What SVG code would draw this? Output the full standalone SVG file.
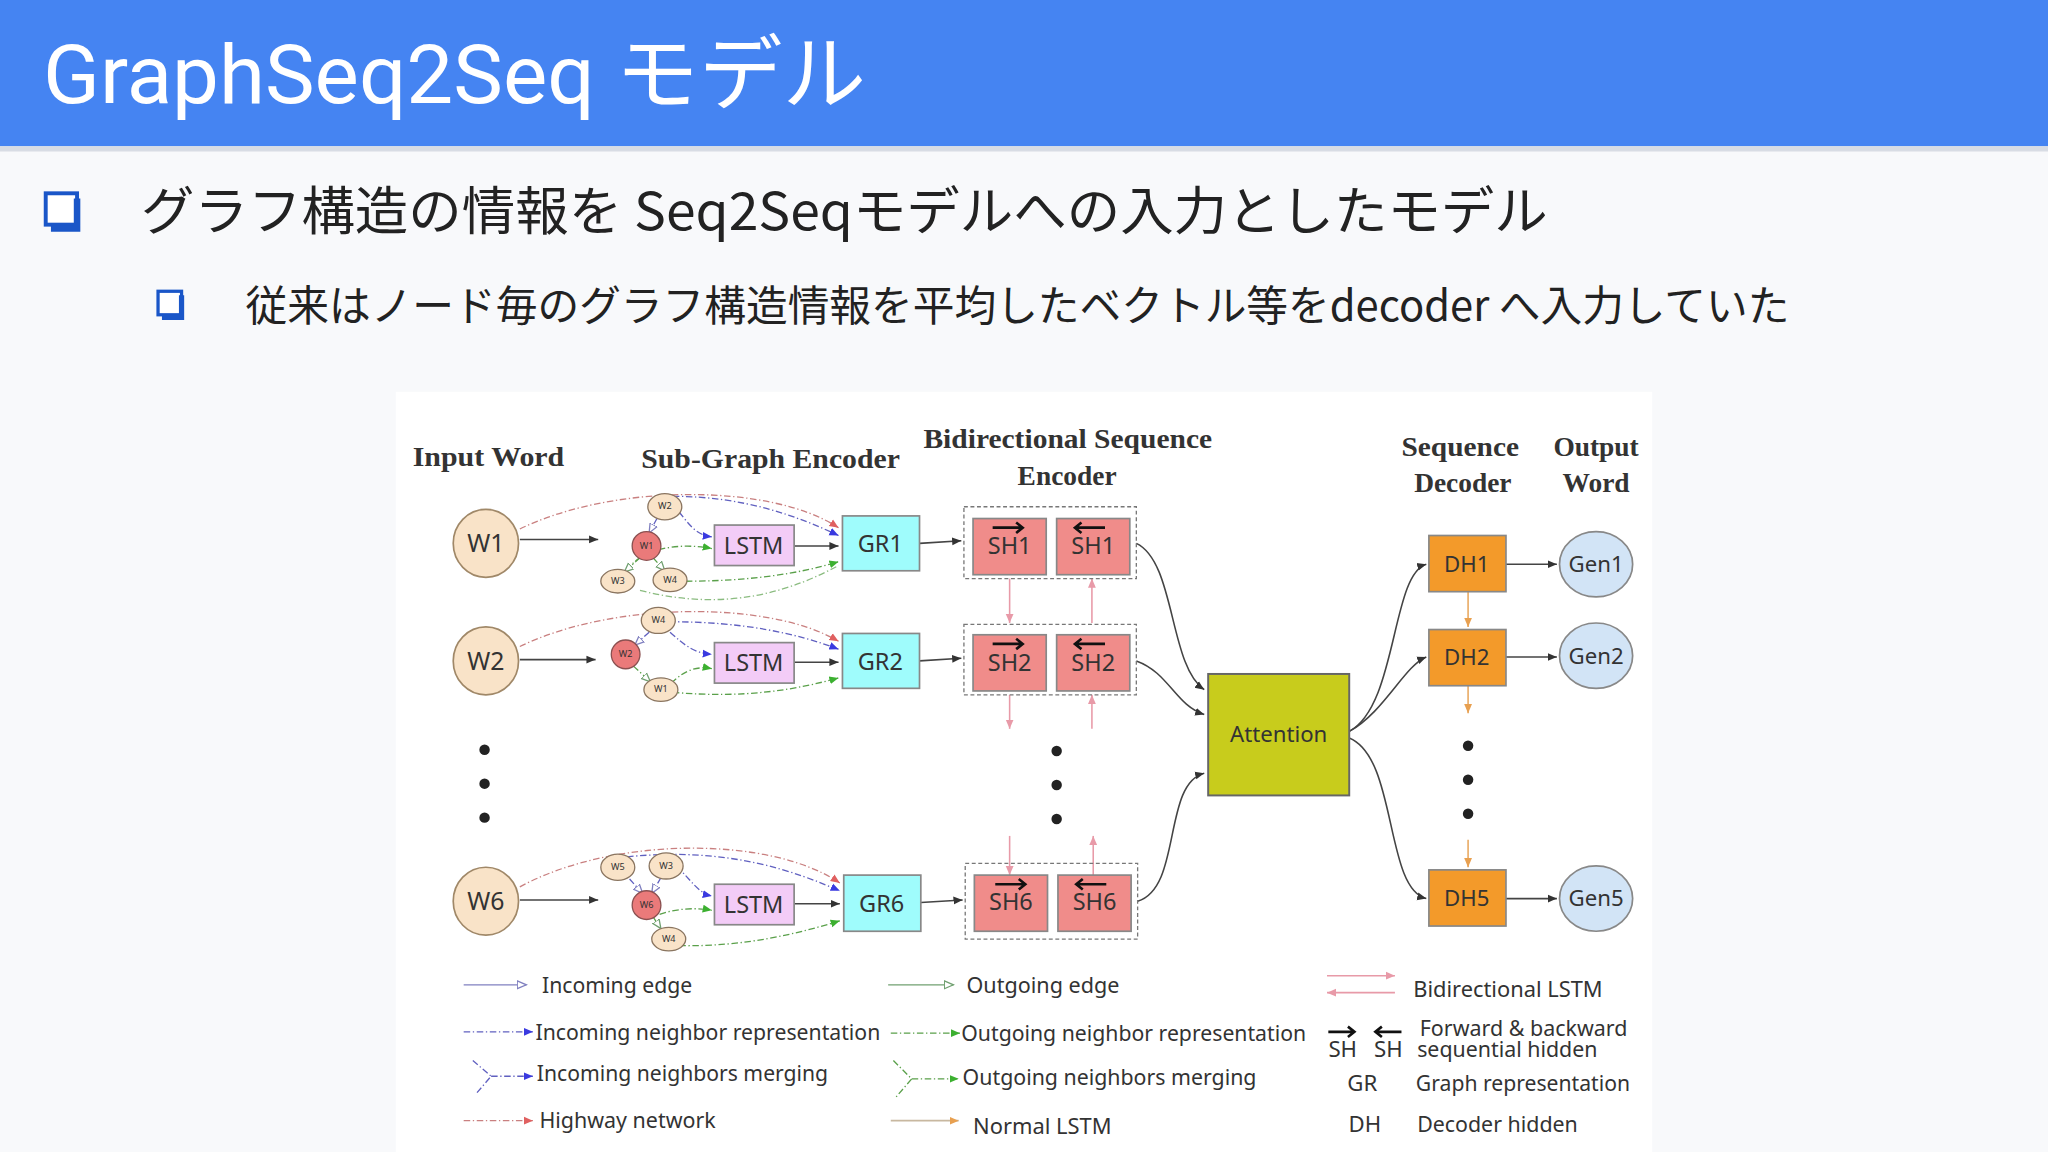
<svg xmlns="http://www.w3.org/2000/svg" width="2048" height="1152" viewBox="0 0 2048 1152">
<defs>
<style>
.t{font-family:"Liberation Serif",serif;font-weight:bold;font-size:21px;fill:#333}
.s{font-family:"Noto Sans","Liberation Sans",sans-serif;fill:#333}
.j{font-family:"Noto Sans CJK JP","Noto Sans",sans-serif;fill:#222}
.w{fill:#f9e3c8;stroke:#a08868;stroke-width:1.3}
.sw{fill:#f9e3c8;stroke:#8a7560;stroke-width:1}
.r{fill:#ea7a7a;stroke:#8a5050;stroke-width:1}
.lstm{fill:#f3ccf7;stroke:#888;stroke-width:1.3}
.gr{fill:#9ffcfc;stroke:#888;stroke-width:1.3}
.sh{fill:#f08c8a;stroke:#888;stroke-width:1.3}
.box{fill:none;stroke:#777;stroke-width:1;stroke-dasharray:3 2}
.dh{fill:#f39a2a;stroke:#888;stroke-width:1.3}
.gen{fill:#d2e4f6;stroke:#888;stroke-width:1.3}
.k{stroke:#444;stroke-width:1.2;fill:none}
.hw{stroke:#c98080;stroke-width:1;fill:none;stroke-dasharray:5 2 1 2}
.in{stroke:#6060c0;stroke-width:1;fill:none;stroke-dasharray:5 2 1 2}
.out{stroke:#5aa04a;stroke-width:1;fill:none;stroke-dasharray:5 2 1 2}
.pk{stroke:#e89aa8;stroke-width:1.2;fill:none}
.or{stroke:#e8a860;stroke-width:1.2;fill:none}
.dot{fill:#222}
</style>
<marker id="ak" markerWidth="8" markerHeight="8" refX="7" refY="4" orient="auto" markerUnits="userSpaceOnUse"><path d="M0,1 L7,4 L0,7z" fill="#333"/></marker>
<marker id="ar" markerWidth="8" markerHeight="8" refX="7" refY="4" orient="auto" markerUnits="userSpaceOnUse"><path d="M0,1 L7,4 L0,7z" fill="#e06060"/></marker>
<marker id="ab" markerWidth="8" markerHeight="8" refX="7" refY="4" orient="auto" markerUnits="userSpaceOnUse"><path d="M0,1 L7,4 L0,7z" fill="#3a3ae0"/></marker>
<marker id="ag" markerWidth="8" markerHeight="8" refX="7" refY="4" orient="auto" markerUnits="userSpaceOnUse"><path d="M0,1 L7,4 L0,7z" fill="#3cb030"/></marker>
<marker id="ap" markerWidth="8" markerHeight="8" refX="7" refY="4" orient="auto" markerUnits="userSpaceOnUse"><path d="M0,1 L7,4 L0,7z" fill="#e89aa8"/></marker>
<marker id="ao" markerWidth="8" markerHeight="8" refX="7" refY="4" orient="auto" markerUnits="userSpaceOnUse"><path d="M0,1 L7,4 L0,7z" fill="#e8a050"/></marker>
<marker id="ai" markerWidth="8" markerHeight="8" refX="7" refY="4" orient="auto" markerUnits="userSpaceOnUse"><path d="M0,1 L7,4 L0,7z" fill="#fff" stroke="#8080c0"/></marker>
<marker id="ago" markerWidth="8" markerHeight="8" refX="7" refY="4" orient="auto" markerUnits="userSpaceOnUse"><path d="M0,1 L7,4 L0,7z" fill="#fff" stroke="#70a070"/></marker>
</defs>
<rect width="2048" height="1152" fill="#f8f9fb"/>
<g transform="scale(1.306122)">
<g id="header">
<rect x="0" y="0" width="1568" height="112" fill="#4584f2"/>
<rect x="0" y="112" width="1568" height="4" fill="#d8dce4"/>
<text x="33" y="79" font-family="Roboto,'Noto Sans CJK JP',sans-serif" font-size="63" fill="#fff" textLength="630" lengthAdjust="spacingAndGlyphs">GraphSeq2Seq モデル</text>
</g>
<g id="bullets">
<rect x="35" y="148" width="24" height="24" fill="#fff" stroke="#1a56c8" stroke-width="3"/>
<path d="M59,152 V175 H39" stroke="#1a56c8" stroke-width="5" fill="none"/>
<text class="j" x="108" y="176" font-size="40" textLength="1077" lengthAdjust="spacingAndGlyphs">グラフ構造の情報を Seq2Seqモデルへの入力としたモデル</text>
<rect x="121" y="223" width="18" height="18" fill="#fff" stroke="#1a56c8" stroke-width="2.5"/>
<path d="M139,226 V243 H124" stroke="#1a56c8" stroke-width="4" fill="none"/>
<text class="j" x="188" y="246" font-size="32" textLength="1182" lengthAdjust="spacingAndGlyphs">従来はノード毎のグラフ構造情報を平均したベクトル等をdecoder へ入力していた</text>
</g>
<rect x="303" y="300" width="962" height="582" fill="#fff"/>
<g id="titles">
<text class="t" x="316" y="357" textLength="116" lengthAdjust="spacingAndGlyphs">Input Word</text>
<text class="t" x="491" y="358" textLength="198" lengthAdjust="spacingAndGlyphs">Sub-Graph Encoder</text>
<text class="t" x="707" y="343" textLength="221" lengthAdjust="spacingAndGlyphs">Bidirectional Sequence</text>
<text class="t" x="817" y="371" text-anchor="middle">Encoder</text>
<text class="t" x="1073" y="349" textLength="90" lengthAdjust="spacingAndGlyphs">Sequence</text>
<text class="t" x="1120" y="377" text-anchor="middle">Decoder</text>
<text class="t" x="1222" y="349" text-anchor="middle">Output</text>
<text class="t" x="1222" y="377" text-anchor="middle">Word</text>
</g>
<g id="connectors">
<path class="k" d="M398,413 H458" marker-end="url(#ak)"/>
<path class="k" d="M398,505 H456" marker-end="url(#ak)"/>
<path class="k" d="M398,689 H458" marker-end="url(#ak)"/>
<path class="hw" d="M398,405 C470,370 590,370 642,404" marker-end="url(#ar)"/>
<path class="in" d="M515,380 C570,380 610,395 642,410" marker-end="url(#ab)"/>
<path class="in" d="M520,392 C530,405 535,410 545,411" marker-end="url(#ab)"/>
<path class="out" d="M480,437 C490,420 520,415 545,420" marker-end="url(#ag)"/>
<path class="out" d="M525,445 C570,445 610,440 642,430" marker-end="url(#ag)"/>
<path class="out" d="M490,452 C560,470 610,450 642,433" stroke-opacity="0.7"/>
<path class="k" d="M608,418 H642" marker-end="url(#ak)"/>
<path class="hw" d="M398,495 C470,460 590,460 642,491" marker-end="url(#ar)"/>
<path class="in" d="M512,476 C570,476 610,485 642,497" marker-end="url(#ab)"/>
<path class="in" d="M513,484 C525,495 532,500 545,501" marker-end="url(#ab)"/>
<path class="out" d="M514,523 C525,512 535,510 545,512" marker-end="url(#ag)"/>
<path class="out" d="M515,530 C570,535 610,528 642,519" marker-end="url(#ag)"/>
<path class="k" d="M608,507 H642" marker-end="url(#ak)"/>
<path class="hw" d="M398,679 C470,640 590,640 643,676" marker-end="url(#ar)"/>
<path class="in" d="M480,656 C560,648 610,668 643,682" marker-end="url(#ab)"/>
<path class="in" d="M518,663 C530,675 535,684 545,686" marker-end="url(#ab)"/>
<path class="out" d="M505,700 C520,695 535,695 545,697" marker-end="url(#ag)"/>
<path class="out" d="M520,724 C570,725 610,715 643,705" marker-end="url(#ag)"/>
<path class="in" d="M482,673 L492,684" marker-end="url(#ai)"/>
<path class="in" d="M506,672 L499,684" marker-end="url(#ai)"/>
<path class="out" d="M500,702 L506,711" marker-end="url(#ago)"/>
<path class="in" d="M503,397 L497,408" marker-end="url(#ai)"/>
<path class="out" d="M490,427 L478,438" marker-end="url(#ago)"/>
<path class="out" d="M500,427 L509,437" marker-end="url(#ago)"/>
<path class="in" d="M497,484 L486,494" marker-end="url(#ai)"/>
<path class="out" d="M485,510 L498,522" marker-end="url(#ago)"/>
<path class="k" d="M608,692 H643" marker-end="url(#ak)"/>
<path class="k" d="M704,416 L736,414" marker-end="url(#ak)"/>
<path class="k" d="M704,506 L736,504" marker-end="url(#ak)"/>
<path class="k" d="M705,691 L737,689" marker-end="url(#ak)"/>
<path class="pk" d="M773,443 V477" marker-end="url(#ap)"/>
<path class="pk" d="M836,477 V443" marker-end="url(#ap)"/>
<path class="pk" d="M773,532 V558" marker-end="url(#ap)"/>
<path class="pk" d="M836,558 V532" marker-end="url(#ap)"/>
<path class="pk" d="M773,640 V670" marker-end="url(#ap)"/>
<path class="pk" d="M837,670 V640" marker-end="url(#ap)"/>
<path class="k" d="M870,416 C900,430 895,510 922,528" marker-end="url(#ak)"/>
<path class="k" d="M870,506 C895,515 900,540 922,547" marker-end="url(#ak)"/>
<path class="k" d="M871,690 C905,680 890,600 922,592" marker-end="url(#ak)"/>
<path class="k" d="M1033,560 C1070,540 1065,440 1092,432" marker-end="url(#ak)"/>
<path class="k" d="M1033,560 C1060,545 1075,510 1092,503" marker-end="url(#ak)"/>
<path class="k" d="M1033,565 C1070,580 1060,680 1092,688" marker-end="url(#ak)"/>
<path class="or" d="M1124,453 V480" marker-end="url(#ao)"/>
<path class="or" d="M1124,525 V546" marker-end="url(#ao)"/>
<path class="or" d="M1124,643 V664" marker-end="url(#ao)"/>
<path class="k" d="M1153,432 H1192" marker-end="url(#ak)"/>
<path class="k" d="M1153,503 H1192" marker-end="url(#ak)"/>
<path class="k" d="M1153,688 H1192" marker-end="url(#ak)"/>
</g>
<g id="W1"><ellipse class="w" cx="372" cy="416" rx="25" ry="26"/><text class="s" x="372" y="423" font-size="19" text-anchor="middle">W1</text></g>
<g id="W2"><ellipse class="w" cx="372" cy="506" rx="25" ry="26"/><text class="s" x="372" y="513" font-size="19" text-anchor="middle">W2</text></g>
<g id="W6"><ellipse class="w" cx="372" cy="690" rx="25" ry="26"/><text class="s" x="372" y="697" font-size="19" text-anchor="middle">W6</text></g>
<g id="sub" font-size="7">
<ellipse class="sw" cx="509" cy="388" rx="13" ry="10"/><text class="s" x="509" y="390" font-size="7" text-anchor="middle">W2</text>
<circle class="r" cx="495" cy="418" r="11"/><text class="s" x="495" y="420" font-size="7" text-anchor="middle">W1</text>
<ellipse class="sw" cx="473" cy="445" rx="13" ry="9"/><text class="s" x="473" y="447" font-size="7" text-anchor="middle">W3</text>
<ellipse class="sw" cx="513" cy="444" rx="13" ry="9"/><text class="s" x="513" y="446" font-size="7" text-anchor="middle">W4</text>
<ellipse class="sw" cx="504" cy="475" rx="13" ry="10"/><text class="s" x="504" y="477" font-size="7" text-anchor="middle">W4</text>
<circle class="r" cx="479" cy="501" r="11"/><text class="s" x="479" y="503" font-size="7" text-anchor="middle">W2</text>
<ellipse class="sw" cx="506" cy="528" rx="13" ry="9"/><text class="s" x="506" y="530" font-size="7" text-anchor="middle">W1</text>
<ellipse class="sw" cx="473" cy="664" rx="13" ry="10"/><text class="s" x="473" y="666" font-size="7" text-anchor="middle">W5</text>
<ellipse class="sw" cx="510" cy="663" rx="13" ry="10"/><text class="s" x="510" y="665" font-size="7" text-anchor="middle">W3</text>
<circle class="r" cx="495" cy="693" r="11"/><text class="s" x="495" y="695" font-size="7" text-anchor="middle">W6</text>
<ellipse class="sw" cx="512" cy="719" rx="13" ry="9"/><text class="s" x="512" y="721" font-size="7" text-anchor="middle">W4</text>
</g>
<g id="LSTM1"><rect class="lstm" x="547" y="402" width="61" height="31"/><text class="s" x="577" y="424" font-size="18" text-anchor="middle">LSTM</text></g>
<g id="LSTM2"><rect class="lstm" x="547" y="492" width="61" height="31"/><text class="s" x="577" y="514" font-size="18" text-anchor="middle">LSTM</text></g>
<g id="LSTM6"><rect class="lstm" x="547" y="677" width="61" height="31"/><text class="s" x="577" y="699" font-size="18" text-anchor="middle">LSTM</text></g>
<g id="GR1"><rect class="gr" x="645" y="395" width="59" height="42"/><text class="s" x="674" y="423" font-size="18" text-anchor="middle">GR1</text></g>
<g id="GR2"><rect class="gr" x="645" y="485" width="59" height="42"/><text class="s" x="674" y="513" font-size="18" text-anchor="middle">GR2</text></g>
<g id="GR6"><rect class="gr" x="646" y="670" width="59" height="43"/><text class="s" x="675" y="698" font-size="18" text-anchor="middle">GR6</text></g>
<g id="SH1">
<rect class="box" x="738" y="388" width="132" height="55"/>
<rect class="sh" x="745" y="397" width="56" height="43"/><rect class="sh" x="809" y="397" width="56" height="43"/>
<path d="M760,404 H783 M778,400 L783,404 L778,408" stroke="#111" stroke-width="2" fill="none"/>
<path d="M846,404 H823 M828,400 L823,404 L828,408" stroke="#111" stroke-width="2" fill="none"/>
<text class="s" x="773" y="424" font-size="18" text-anchor="middle">SH1</text><text class="s" x="837" y="424" font-size="18" text-anchor="middle">SH1</text>
</g>
<g id="SH2">
<rect class="box" x="738" y="478" width="132" height="54"/>
<rect class="sh" x="745" y="486" width="56" height="43"/><rect class="sh" x="809" y="486" width="56" height="43"/>
<path d="M760,493 H783 M778,489 L783,493 L778,497" stroke="#111" stroke-width="2" fill="none"/>
<path d="M846,493 H823 M828,489 L823,493 L828,497" stroke="#111" stroke-width="2" fill="none"/>
<text class="s" x="773" y="514" font-size="18" text-anchor="middle">SH2</text><text class="s" x="837" y="514" font-size="18" text-anchor="middle">SH2</text>
</g>
<g id="SH6">
<rect class="box" x="739" y="661" width="132" height="58"/>
<rect class="sh" x="746" y="670" width="56" height="43"/><rect class="sh" x="810" y="670" width="56" height="43"/>
<path d="M762,677 H785 M780,673 L785,677 L780,681" stroke="#111" stroke-width="2" fill="none"/>
<path d="M847,677 H824 M829,673 L824,677 L829,681" stroke="#111" stroke-width="2" fill="none"/>
<text class="s" x="774" y="697" font-size="18" text-anchor="middle">SH6</text><text class="s" x="838" y="697" font-size="18" text-anchor="middle">SH6</text>
</g>
<g id="dots">
<circle class="dot" cx="371" cy="574" r="4"/><circle class="dot" cx="371" cy="600" r="4"/><circle class="dot" cx="371" cy="626" r="4"/>
<circle class="dot" cx="809" cy="575" r="4"/><circle class="dot" cx="809" cy="601" r="4"/><circle class="dot" cx="809" cy="627" r="4"/>
<circle class="dot" cx="1124" cy="571" r="4"/><circle class="dot" cx="1124" cy="597" r="4"/><circle class="dot" cx="1124" cy="623" r="4"/>
</g>
<g id="Attention"><rect x="925" y="516" width="108" height="93" fill="#c8cc1c" stroke="#666" stroke-width="1.5"/><text class="s" x="979" y="568" font-size="17" text-anchor="middle">Attention</text></g>
<g id="DH1"><rect class="dh" x="1094" y="410" width="59" height="43"/><text class="s" x="1123" y="438" font-size="17" text-anchor="middle">DH1</text></g>
<g id="DH2"><rect class="dh" x="1094" y="482" width="59" height="43"/><text class="s" x="1123" y="509" font-size="17" text-anchor="middle">DH2</text></g>
<g id="DH5"><rect class="dh" x="1094" y="666" width="59" height="43"/><text class="s" x="1123" y="694" font-size="17" text-anchor="middle">DH5</text></g>
<g id="Gen1"><ellipse class="gen" cx="1222" cy="432" rx="28" ry="25"/><text class="s" x="1222" y="438" font-size="17" text-anchor="middle">Gen1</text></g>
<g id="Gen2"><ellipse class="gen" cx="1222" cy="502" rx="28" ry="25"/><text class="s" x="1222" y="508" font-size="17" text-anchor="middle">Gen2</text></g>
<g id="Gen5"><ellipse class="gen" cx="1222" cy="688" rx="28" ry="25"/><text class="s" x="1222" y="694" font-size="17" text-anchor="middle">Gen5</text></g>
<g id="legend">
<path d="M355,754 H403" stroke="#8080c0" stroke-width="1" marker-end="url(#ai)"/>
<text class="s" x="415" y="760" font-size="17" textLength="115" lengthAdjust="spacingAndGlyphs">Incoming edge</text>
<path class="in" d="M355,790 H408" marker-end="url(#ab)"/>
<text class="s" x="410" y="796" font-size="17" textLength="264" lengthAdjust="spacingAndGlyphs">Incoming neighbor representation</text>
<path class="in" d="M362,812 L376,824 L364,838 M376,824 H408" marker-end="url(#ab)"/>
<text class="s" x="411" y="828" font-size="17" textLength="223" lengthAdjust="spacingAndGlyphs">Incoming neighbors merging</text>
<path class="hw" d="M355,858 H408" marker-end="url(#ar)"/>
<text class="s" x="413" y="864" font-size="17" textLength="135" lengthAdjust="spacingAndGlyphs">Highway network</text>
<path d="M680,754 H730" stroke="#70a070" stroke-width="1" marker-end="url(#ago)"/>
<text class="s" x="740" y="760" font-size="17" textLength="117" lengthAdjust="spacingAndGlyphs">Outgoing edge</text>
<path class="out" d="M682,791 H735" marker-end="url(#ag)"/>
<text class="s" x="736" y="797" font-size="17" textLength="264" lengthAdjust="spacingAndGlyphs">Outgoing neighbor representation</text>
<path class="out" d="M684,812 L698,826 L686,840 M698,826 H734" marker-end="url(#ag)"/>
<text class="s" x="737" y="831" font-size="17" textLength="225" lengthAdjust="spacingAndGlyphs">Outgoing neighbors merging</text>
<path d="M682,858 H734" stroke="#c8b8a0" stroke-width="1.3" fill="none" marker-end="url(#ao)"/>
<text class="s" x="745" y="868" font-size="17" textLength="106" lengthAdjust="spacingAndGlyphs">Normal LSTM</text>
<path class="pk" d="M1016,747 H1068" marker-end="url(#ap)"/>
<path class="pk" d="M1068,760 H1016" marker-end="url(#ap)"/>
<text class="s" x="1082" y="763" font-size="17" textLength="145" lengthAdjust="spacingAndGlyphs">Bidirectional LSTM</text>
<path d="M1017,790 H1036 M1032,786 L1037,790 L1032,794" stroke="#111" stroke-width="2" fill="none"/>
<path d="M1073,790 H1054 M1058,786 L1053,790 L1058,794" stroke="#111" stroke-width="2" fill="none"/>
<text class="s" x="1028" y="809" font-size="17" text-anchor="middle">SH</text>
<text class="s" x="1063" y="809" font-size="17" text-anchor="middle">SH</text>
<text class="s" x="1087" y="793" font-size="17" textLength="159" lengthAdjust="spacingAndGlyphs">Forward &amp; backward</text>
<text class="s" x="1085" y="809" font-size="17" textLength="138" lengthAdjust="spacingAndGlyphs">sequential hidden</text>
<text class="s" x="1043" y="835" font-size="17" text-anchor="middle">GR</text>
<text class="s" x="1084" y="835" font-size="17" textLength="164" lengthAdjust="spacingAndGlyphs">Graph representation</text>
<text class="s" x="1045" y="867" font-size="17" text-anchor="middle">DH</text>
<text class="s" x="1085" y="867" font-size="17" textLength="123" lengthAdjust="spacingAndGlyphs">Decoder hidden</text>
</g>
</g>
</svg>
